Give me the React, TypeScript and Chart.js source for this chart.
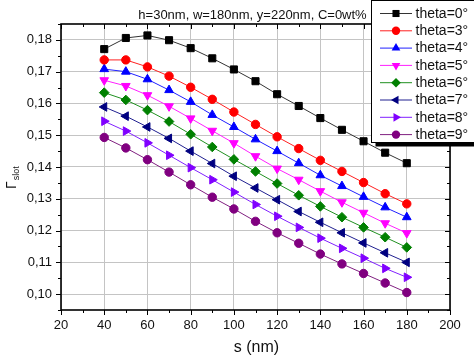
import React, { useEffect, useRef } from 'react';
import { Chart, registerables } from 'chart.js';

Chart.register(...registerables);

const sValues = [40, 50, 60, 70, 80, 90, 100, 110, 120, 130, 140, 150, 160, 170, 180];

const theta0 = [0.1771, 0.1806, 0.1814, 0.1799, 0.1774, 0.1742, 0.1707, 0.1670, 0.1629, 0.1592, 0.1554, 0.1517, 0.1481, 0.1445, 0.1412];
const theta3 = [0.1737, 0.1737, 0.1715, 0.1686, 0.1651, 0.1613, 0.1573, 0.1534, 0.1495, 0.1458, 0.1421, 0.1386, 0.1351, 0.1316, 0.1284];
const theta4 = [0.1708, 0.1700, 0.1676, 0.1642, 0.1605, 0.1564, 0.1526, 0.1487, 0.1450, 0.1412, 0.1374, 0.1340, 0.1306, 0.1273, 0.1242];
const theta5 = [0.1673, 0.1655, 0.1626, 0.1591, 0.1553, 0.1514, 0.1475, 0.1434, 0.1395, 0.1360, 0.1324, 0.1289, 0.1256, 0.1223, 0.1192];
const theta6 = [0.1634, 0.1611, 0.1579, 0.1543, 0.1503, 0.1463, 0.1424, 0.1386, 0.1348, 0.1311, 0.1276, 0.1242, 0.1210, 0.1179, 0.1147];
const theta7 = [0.1589, 0.1560, 0.1526, 0.1490, 0.1450, 0.1411, 0.1371, 0.1334, 0.1297, 0.1260, 0.1226, 0.1193, 0.1161, 0.1130, 0.1100];
const theta8 = [0.1544, 0.1513, 0.1476, 0.1437, 0.1398, 0.1360, 0.1321, 0.1282, 0.1245, 0.1210, 0.1176, 0.1144, 0.1113, 0.1081, 0.1053];
const theta9 = [0.1493, 0.1460, 0.1423, 0.1384, 0.1344, 0.1305, 0.1268, 0.1229, 0.1193, 0.1160, 0.1126, 0.1095, 0.1065, 0.1035, 0.1005];

const seriesLabels = ['theta=0°', 'theta=3°', 'theta=4°', 'theta=5°', 'theta=6°', 'theta=7°', 'theta=8°', 'theta=9°'];
const seriesValues = [theta0, theta3, theta4, theta5, theta6, theta7, theta8, theta9];

const xTicks = [20, 40, 60, 80, 100, 120, 140, 160, 180, 200];
const yTicks = [0.10, 0.11, 0.12, 0.13, 0.14, 0.15, 0.16, 0.17, 0.18];

const chartTitle = 'h=30nm, w=180nm, y=220nm, C=0wt%';
const xTitle = 's (nm)';
const yTitleMain = 'Γ';
const yTitleSub = 'slot';

// styles
const markerColors = ['#000000', '#ff0000', '#0000ff', '#ff00ff', '#008000', '#000080', '#8000ff', '#800080'];
const lineColors = ['#333333', '#ff2020', '#2020ff', '#ff20ff', '#209020', '#202090', '#8020ff', '#802080'];
const pointStyles = ['rect', 'circle', 'triangle', 'triangle', 'rectRot', 'triangle', 'triangle', 'circle'];
const pointRotations = [0, 0, 0, 180, 0, 270, 90, 0];
const pointRadii = [5, 4.2, 5, 5, 4.8, 5, 5, 4.2];

const FONT = '"Liberation Sans", Arial, Helvetica, sans-serif';

function drawMarker(ctx: CanvasRenderingContext2D, style: string, rotationDeg: number, x: number, y: number, r: number) {
  const rad = (rotationDeg * Math.PI) / 180;
  ctx.beginPath();
  if (style === 'rect') {
    const s = Math.SQRT1_2 * r;
    ctx.rect(x - s, y - s, 2 * s, 2 * s);
  } else if (style === 'circle') {
    ctx.arc(x, y, r, 0, Math.PI * 2);
  } else if (style === 'rectRot') {
    ctx.moveTo(x, y - r);
    ctx.lineTo(x + r, y);
    ctx.lineTo(x, y + r);
    ctx.lineTo(x - r, y);
  } else {
    let a = rad;
    ctx.moveTo(x + Math.sin(a) * r, y - Math.cos(a) * r);
    a += (2 * Math.PI) / 3;
    ctx.lineTo(x + Math.sin(a) * r, y - Math.cos(a) * r);
    a += (2 * Math.PI) / 3;
    ctx.lineTo(x + Math.sin(a) * r, y - Math.cos(a) * r);
  }
  ctx.closePath();
  ctx.fill();
}

const framePlugin = {
  id: 'frameTicks',
  afterDatasetsDraw(chart: any) {
    const { ctx, chartArea: a, scales } = chart;
    const x = scales.x;
    const y = scales.y;
    ctx.save();
    ctx.strokeStyle = '#000';
    ctx.lineWidth = 1;
    const line = (x1: number, y1: number, x2: number, y2: number) => {
      ctx.beginPath();
      ctx.moveTo(x1, y1);
      ctx.lineTo(x2, y2);
      ctx.stroke();
    };
    // x ticks (major + minor midpoints)
    const xAll: { v: number; major: boolean }[] = [];
    xTicks.forEach((v, i) => {
      xAll.push({ v, major: true });
      if (i < xTicks.length - 1) xAll.push({ v: (v + xTicks[i + 1]) / 2, major: false });
    });
    xAll.forEach(({ v, major }) => {
      const px = Math.round(x.getPixelForValue(v)) + 0.5;
      const len = major ? 5 : 3;
      line(px, a.bottom, px, a.bottom + len);
      line(px, a.top, px, a.top + len);
    });
    // y ticks
    const step = yTicks[1] - yTicks[0];
    const yAll: { v: number; major: boolean }[] = [{ v: yTicks[0] - step / 2, major: false }];
    yTicks.forEach((v, i) => {
      yAll.push({ v, major: true });
      yAll.push({ v: v + step / 2, major: false });
    });
    yAll.forEach(({ v, major }) => {
      const py = Math.round(y.getPixelForValue(v)) + 0.5;
      const len = major ? 5 : 3;
      line(a.left - len, py, a.left, py);
      line(a.right - len, py, a.right, py);
    });
    // frame
    ctx.lineWidth = 1.6;
    ctx.strokeRect(a.left, a.top, a.right - a.left, a.bottom - a.top);
    ctx.restore();
  },
  afterDraw(chart: any) {
    const { ctx, chartArea: a } = chart;
    ctx.save();
    // title
    ctx.fillStyle = '#111';
    ctx.font = `13px ${FONT}`;
    ctx.textAlign = 'center';
    ctx.textBaseline = 'alphabetic';
    ctx.fillText(chartTitle, 252.5, 18.5);
    // x title
    ctx.font = `16px ${FONT}`;
    ctx.fillText(xTitle, (a.left + a.right) / 2 + 1, 352);
    // y title
    ctx.save();
    ctx.translate(16, 189);
    ctx.rotate(-Math.PI / 2);
    ctx.textAlign = 'left';
    ctx.font = `14px ${FONT}`;
    ctx.fillText(yTitleMain, 0, 0);
    const w = ctx.measureText(yTitleMain).width;
    ctx.font = `9px ${FONT}`;
    ctx.fillText(yTitleSub, w + 1, 3);
    ctx.restore();

    // legend
    const bx = 371.5;
    const by = 0.5;
    const bw = 110;
    const bh = 142;
    ctx.fillStyle = '#000';
    ctx.fillRect(bx + 4, by + bh, bw, 4);
    ctx.fillStyle = '#fff';
    ctx.fillRect(bx, by, bw, bh);
    ctx.strokeStyle = '#000';
    ctx.lineWidth = 1;
    ctx.strokeRect(bx, by, bw, bh);
    const rowStart = 13.5;
    const rowStep = 17.3;
    seriesLabels.forEach((label, i) => {
      const cy = rowStart + i * rowStep;
      ctx.strokeStyle = lineColors[i];
      ctx.lineWidth = 1;
      ctx.beginPath();
      ctx.moveTo(380, cy);
      ctx.lineTo(412, cy);
      ctx.stroke();
      ctx.fillStyle = markerColors[i];
      drawMarker(ctx, pointStyles[i], pointRotations[i], 396, cy, pointRadii[i]);
      ctx.fillStyle = '#111';
      ctx.font = `14px ${FONT}`;
      ctx.textAlign = 'left';
      ctx.textBaseline = 'middle';
      ctx.fillText(label, 415.5, cy + 0.5);
    });
    ctx.restore();
  },
};

export default function App() {
  const canvasRef = useRef<HTMLCanvasElement | null>(null);

  useEffect(() => {
    document.body.style.margin = '0';
    const canvas = canvasRef.current;
    if (!canvas) return;
    const datasets = seriesValues.map((vals, i) => ({
      label: seriesLabels[i],
      data: sValues.map((s, j) => ({ x: s, y: vals[j] })),
      borderColor: lineColors[i],
      backgroundColor: markerColors[i],
      pointBackgroundColor: markerColors[i],
      pointBorderColor: markerColors[i],
      pointBorderWidth: 1,
      borderWidth: 1,
      pointStyle: pointStyles[i],
      rotation: pointRotations[i],
      pointRadius: pointRadii[i],
      tension: 0,
      fill: false,
      clip: false as any,
    }));

    const chart = new Chart(canvas, {
      type: 'line',
      data: { datasets },
      options: {
        animation: false,
        responsive: false,
        devicePixelRatio: 1,
        layout: { padding: { left: 0, top: 24, right: 24, bottom: 0 } },
        plugins: {
          legend: { display: false },
          title: { display: false },
          tooltip: { enabled: false },
        },
        scales: {
          x: {
            type: 'linear',
            min: 20,
            max: 200,
            afterBuildTicks: (s: any) => {
              s.ticks = xTicks.map((v) => ({ value: v }));
            },
            afterFit: (s: any) => {
              s.height = 47;
            },
            grid: { color: '#c4c4c4', lineWidth: 1, drawTicks: false },
            border: { display: false },
            ticks: {
              padding: 8,
              maxRotation: 0,
              autoSkip: false,
              color: '#111',
              font: { family: FONT, size: 13 },
            },
          },
          y: {
            type: 'linear',
            min: 0.095,
            max: 0.185,
            afterBuildTicks: (s: any) => {
              s.ticks = yTicks.map((v) => ({ value: v }));
            },
            afterFit: (s: any) => {
              s.width = 61;
            },
            grid: { color: '#c4c4c4', lineWidth: 1, drawTicks: false },
            border: { display: false },
            ticks: {
              padding: 9,
              autoSkip: false,
              color: '#111',
              font: { family: FONT, size: 13 },
              callback: (v: any) => Number(v).toFixed(2).replace('.', ','),
            },
          },
        },
      },
      plugins: [framePlugin],
    });
    return () => chart.destroy();
  }, []);

  return (
    <div style={{ width: 474, height: 357, background: '#fff' }}>
      <canvas ref={canvasRef} width={474} height={357} style={{ display: 'block' }} />
    </div>
  );
}
